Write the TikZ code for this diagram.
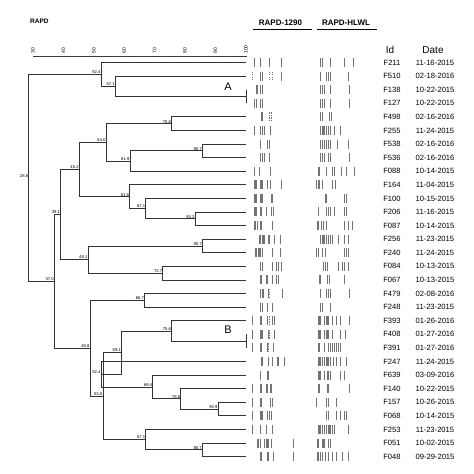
\documentclass[tikz,border=0pt]{standalone}
\usepackage{fontspec}
\setmainfont{Liberation Sans}
\usetikzlibrary{calc}
\tikzset{
 br/.style={draw=black!80, line width=0.75pt},
 lab/.style={font=\fontsize{4.2}{5}\selectfont, inner sep=0.4pt, anchor=south east},
 band/.style={draw=black!55, line width=0.9pt},
 dband/.style={band, dash pattern=on 1.3pt off 1.2pt},
 idt/.style={font=\fontsize{7.6}{9}\selectfont, inner sep=0pt},
 hdr/.style={font=\fontsize{10}{12}\selectfont, inner sep=0pt},
 gel/.style={font=\bfseries\fontsize{8}{10}\selectfont, inner sep=0pt},
 ttl/.style={font=\bfseries\fontsize{6.5}{8}\selectfont, inner sep=0pt, anchor=west},
 tickl/.style={font=\fontsize{5}{6}\selectfont, rotate=90, anchor=west, inner sep=0pt},
 grp/.style={font=\fontsize{11}{13}\selectfont, inner sep=0pt},
}
\newcommand\dgjoin[4]{%
 \path let \p1=(#3), \p2=(#4) in ({(33+(#2-30)*3.04)*1pt}, {0.5*\y1+0.5*\y2}) coordinate (#1);
 \draw[br] (#1) |- (#3);
 \draw[br] (#1) |- (#4);
 \node[lab] (t#1) at (#1) {#2};
}
\newcommand\bandrow[2]{%
 \foreach \bx in {#2} \draw[band] ({248+\bx/3}, {62.5+13.59*#1-4.5}) -- ++(0,9);
}
\newcommand\dbandrow[2]{%
 \foreach \bx in {#2} \draw[dband] ({248+\bx/3}, {62.5+13.59*#1-4.5}) -- ++(0,9);
}
\begin{document}
\begin{tikzpicture}[x=1pt,y=-1pt]
\useasboundingbox (0,0) rectangle (474,474);
% title and headers
\node[ttl] (title) at (30,21.7) {RAPD};
\node[gel] (g1) at (280.5,23) {RAPD-1290};
\node[gel] (g2) at (346,23) {RAPD-HLWL};
\draw[line width=0.8pt] (253,29.5) -- (312,29.5);
\draw[line width=0.8pt] (317,29.5) -- (377,29.5);
\node[hdr] (hid) at (390,50) {Id};
\node[hdr] (hdate) at (433,50) {Date};
% axis
\draw[black!80, line width=0.6pt] (33,56) -- (246,56);
\foreach \v in {30,31,...,100} \draw[black!70, line width=0.4pt] ({33+(\v-30)*3.04},56) -- ++(0,1.3);
\foreach \v in {30,40,...,100} \node[tickl] (ax\v) at ({33+(\v-30)*3.04},53.8) {\v};
% leaves
\foreach \i in {0,...,29} \coordinate (L\i) at (246,{62.5+13.59*\i});
\coordinate (CA) at ($(L2)!0.5!(L3)$);
\draw[br] (L2) -- (L3);
\coordinate (CB) at ($(L20)!0.5!(L21)$);
\draw[br] (L20) -- (L21);
% tree
\dgjoin{A1}{57.1}{L1}{CA}
\dgjoin{A0}{52.4}{L0}{A1}
\dgjoin{n756a}{75.6}{L4}{L5}
\dgjoin{n857a}{85.7}{L6}{L7}
\dgjoin{n619}{61.9}{n857a}{L8}
\dgjoin{n540}{54.0}{n756a}{n619}
\dgjoin{n833}{83.3}{L11}{L12}
\dgjoin{n671a}{67.1}{L10}{n833}
\dgjoin{n618}{61.8}{L9}{n671a}
\dgjoin{n452}{45.2}{n540}{n618}
\dgjoin{n857b}{85.7}{L13}{L14}
\dgjoin{n727}{72.7}{L15}{L16}
\dgjoin{n481}{48.1}{n857b}{n727}
\dgjoin{n391}{39.1}{n452}{n481}
\dgjoin{n667}{66.7}{L17}{L18}
\dgjoin{n756b}{75.6}{L19}{CB}
\dgjoin{n909}{90.9}{L25}{L26}
\dgjoin{n786}{78.6}{L24}{n909}
\dgjoin{n694}{69.4}{L23}{n786}
\dgjoin{n524}{52.4}{L22}{n694}
\dgjoin{n591}{59.1}{n756b}{n524}
\dgjoin{n857c}{85.7}{L28}{L29}
\dgjoin{n671b}{67.1}{L27}{n857c}
\dgjoin{n530}{53.0}{n591}{n671b}
\dgjoin{n488}{48.8}{n667}{n530}
\dgjoin{n370}{37.0}{n391}{n488}
\dgjoin{root}{28.6}{A0}{n370}
\node[grp] (gA) at (228,87) {A};
\node[grp] (gB) at (228,330) {B};
% bands
\bandrow{0}{18,38,65,100,218,222,248,290,315}
\bandrow{1}{36,42,100,218,236,242,248,302}
\dbandrow{1}{14,64,72}
\bandrow{2}{24,28,38,44,218,222,228,248,305}
\bandrow{3}{20,24,38,44,218,222,228,248,305}
\bandrow{4}{40,44,218,224,244,250}
\dbandrow{4}{64,70}
\bandrow{5}{18,38,44,50,68,218,222,226,230,236,240,248,260,276}
\bandrow{6}{38,58,64,218,222,228,236,242,248,268,302}
\bandrow{7}{38,44,50,64,218,222,228,240,248,305}
\bandrow{8}{18,34,68,210,214,236,254,260,280,294,318}
\bandrow{9}{18,22,26,36,40,44,58,68,100,206,210,214,222,254,262}
\bandrow{10}{18,22,26,36,40,44,70,74,232,236,290,295}
\bandrow{11}{18,22,26,36,40,54,70,76,212,234,240,246,260,290,296}
\bandrow{12}{18,22,28,36,40,74,208,212,220,226,234,290,302,312}
\bandrow{13}{34,38,42,46,50,60,64,78,96,218,222,226,230,234,240,248,254,270,290,300}
\bandrow{14}{22,26,30,34,38,42,74,96,206,210,222,232,290,296,300}
\bandrow{15}{38,42,74,86,92,100,226,232,238,270,282,290,300}
\bandrow{16}{36,40,54,58,74,84,90,214,218,238,244,290}
\bandrow{17}{38,42,46,60,104,218,236,240,246,304}
\dbandrow{17}{64}
\bandrow{18}{38,42,58,74,218,222,248}
\bandrow{19}{14,36,40,58,74,78,210,214,218,230,234,238,242,254,264,278,304}
\dbandrow{19}{64}
\bandrow{20}{14,36,40,44,60,78,210,214,218,230,234,238,242,254,278,292}
\dbandrow{20}{64}
\bandrow{21}{14,36,40,58,76,210,214,230,240,246,252,258,264,270,276}
\dbandrow{21}{62}
\bandrow{22}{40,44,60,74,88,92,108,210,214,218,222,230,234,238,242,246,256,264,278,296}
\bandrow{23}{36,58,62,210,214,218,230,238,242,246,278,290}
\bandrow{24}{14,36,40,54,58,66,70,210,214,238,242,304}
\bandrow{25}{14,36,40,66,72,206,236,240,266}
\bandrow{26}{14,36,40,44,58,64,70,236,240,266,278,288,296}
\bandrow{27}{14,36,54,74,210,214,218,222,230,236,240,244,248,254,258,300}
\bandrow{28}{28,32,36,50,54,58,62,70,136,208,212,222,226,230,240,248}
\bandrow{29}{36,40,58,62,76,136,208,212,216,222,232,240,252,264,284,300}
% ids and dates
\foreach \id/\dt [count=\i from 0] in {F211/11-16-2015,F510/02-18-2016,F138/10-22-2015,F127/10-22-2015,F498/02-16-2016,F255/11-24-2015,F538/02-16-2016,F536/02-16-2016,F088/10-14-2015,F164/11-04-2015,F100/10-15-2015,F206/11-16-2015,F087/10-14-2015,F256/11-23-2015,F240/11-24-2015,F084/10-13-2015,F067/10-13-2015,F479/02-08-2016,F248/11-23-2015,F393/01-26-2016,F408/01-27-2016,F391/01-27-2016,F247/11-24-2015,F639/03-09-2016,F140/10-22-2015,F157/10-26-2015,F068/10-14-2015,F253/11-23-2015,F051/10-02-2015,F048/09-29-2015}{
 \node[idt] (id\i) at (392,{62.5+13.59*\i}) {\id};
 \node[idt] (dt\i) at (435,{62.5+13.59*\i}) {\dt};
}
\end{tikzpicture}
\end{document}
